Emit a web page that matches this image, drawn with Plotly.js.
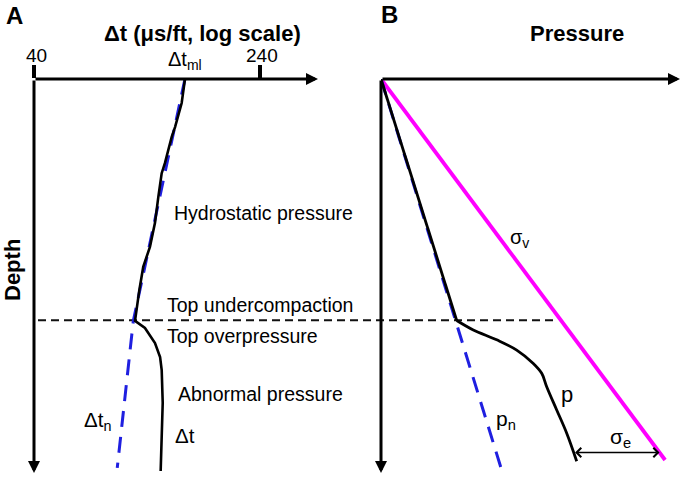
<!DOCTYPE html>
<html>
<head>
<meta charset="utf-8">
<script src="https://cdn.plot.ly/plotly-3.0.1.min.js"></script>
<style>html,body{margin:0;padding:0;background:#fff;}#chart{width:685px;height:479px;}</style>
</head>
<body>
<div id="chart"></div>
<script>
// ---- Panel A: sonic transit time (log scale) vs depth (relative depth 0..1) ----
const dtTickVals = [40, 240];
const dtTickText = ['40', '240'];
const dtDepth = [0, 0.061, 0.122, 0.147, 0.213, 0.239, 0.299, 0.365, 0.426, 0.477, 0.536, 0.586, 0.614, 0.632, 0.670, 0.706, 0.739, 0.822, 0.934, 0.995];
const dtValues = [132.4, 129.0, 122.4, 119.2, 113.0, 110.1, 107.2, 104.4, 100.3, 95.1, 92.2, 90.3, 89.1, 96.4, 104.4, 108.7, 110.1, 111.0, 110.1, 109.2];
const dtNormalDepth = [0, 0.614, 0.987];
const dtNormalValues = [132.4, 87.9, 77.4];

// ---- Panel B: pressure vs depth (relative units) ----
const sigmaVDepth = [0, 0.967];
const sigmaVValues = [0, 0.965];
const pNormalDepth = [0, 0.987];
const pNormalValues = [0, 0.4076];
const pShallowDepth = [0, 0.613];
const pShallowValues = [0, 0.2571];
const pDeepDepth = [0.613, 0.637, 0.662, 0.688, 0.722, 0.747, 0.781, 0.840, 0.899, 0.970];
const pDeepValues = [0.2571, 0.3135, 0.3930, 0.4609, 0.5173, 0.5459, 0.5628, 0.5968, 0.6308, 0.6647];

const topUndercompactionDepth = 0.612;
const sigmaEDepth = 0.948;

const FONT = 'Liberation Sans, Arial, Helvetica, sans-serif';
const W = 685, H = 479;
const L10 = Math.log10;

function interp(xs, ys, v) {
  for (let i = 1; i < ys.length; i++) {
    if (v <= ys[i]) {
      const t = (v - ys[i-1]) / (ys[i] - ys[i-1]);
      return xs[i-1] + t * (xs[i] - xs[i-1]);
    }
  }
  return xs[xs.length - 1];
}

const traces = [
  {x: dtNormalValues, y: dtNormalDepth, xaxis: 'x', yaxis: 'y', mode: 'lines',
   line: {color: '#1f1fe0', width: 3, dash: '16px,10px'}, hoverinfo: 'skip'},
  {x: dtValues, y: dtDepth, xaxis: 'x', yaxis: 'y', mode: 'lines',
   line: {color: '#000', width: 2.6}, hoverinfo: 'skip'},
  {x: sigmaVValues, y: sigmaVDepth, xaxis: 'x2', yaxis: 'y2', mode: 'lines',
   line: {color: '#ff00ff', width: 3.8}, hoverinfo: 'skip'},
  {x: pNormalValues, y: pNormalDepth, xaxis: 'x2', yaxis: 'y2', mode: 'lines',
   line: {color: '#1f1fe0', width: 3, dash: '16px,10px'}, hoverinfo: 'skip'},
  {x: pShallowValues, y: pShallowDepth, xaxis: 'x2', yaxis: 'y2', mode: 'lines',
   line: {color: '#000', width: 2.8}, hoverinfo: 'skip'},
  {x: pDeepValues, y: pDeepDepth, xaxis: 'x2', yaxis: 'y2', mode: 'lines',
   line: {color: '#000', width: 2.8, shape: 'spline', smoothing: 1}, hoverinfo: 'skip'}
];

// pixel layout helpers
const aLeft = 34, aRight = 322, pxPerDecade = 290.4;
const bLeft = 381, bRight = 684, pxPerUnit = 294.4;
const pTop = 79, pBottom = 476, pxPerDepth = 394;
const xA0 = L10(40), xA1 = xA0 + (aRight - aLeft) / pxPerDecade;
const xB1 = (bRight - bLeft) / pxPerUnit;
const yEnd = (pBottom - pTop) / pxPerDepth;
const aArrowTip = xA0 + (318 - aLeft) / pxPerDecade;
const bArrowTip = (680 - bLeft) / pxPerUnit;
const depthTip = (473 - pTop) / pxPerDepth;
const ax = px => xA0 + (px - aLeft) / pxPerDecade;   // panel A pixel -> log10 value
const bx = px => (px - bLeft) / pxPerUnit;            // panel B pixel -> pressure

const domY = [1 - pBottom / H, 1 - pTop / H];

const txt = (size, bold) => ({size: size, family: FONT, color: '#000', weight: bold ? 'bold' : 'normal'});

const arrowCommon = {showarrow: true, text: '', arrowhead: 2, arrowsize: 0.8, arrowwidth: 3, arrowcolor: '#000', standoff: 0, startstandoff: 0};

const annotations = [
  // axis arrows panel A
  Object.assign({xref: 'x', yref: 'y', axref: 'x', ayref: 'y', x: aArrowTip, y: 0, ax: xA0, ay: 0}, arrowCommon),
  Object.assign({xref: 'x', yref: 'y', axref: 'x', ayref: 'y', x: xA0, y: depthTip, ax: xA0, ay: 0}, arrowCommon),
  // axis arrows panel B
  Object.assign({xref: 'x2', yref: 'y2', axref: 'x2', ayref: 'y2', x: bArrowTip, y: 0, ax: 0, ay: 0}, arrowCommon),
  Object.assign({xref: 'x2', yref: 'y2', axref: 'x2', ayref: 'y2', x: 0, y: depthTip, ax: 0, ay: 0}, arrowCommon),
  // sigma_e double arrow
  {xref: 'x2', yref: 'y2', axref: 'x2', ayref: 'y2',
   x: interp(sigmaVValues, sigmaVDepth, sigmaEDepth), y: sigmaEDepth,
   ax: interp(pDeepValues, pDeepDepth, sigmaEDepth), ay: sigmaEDepth,
   showarrow: true, text: '', arrowhead: 4, startarrowhead: 4, arrowside: 'end+start',
   arrowsize: 1.3, startarrowsize: 1.3, arrowwidth: 1.4, arrowcolor: '#000', standoff: 0, startstandoff: 0},
  // panel letters and titles
  {xref: 'paper', yref: 'paper', x: 14 / W, y: 1 - 16 / H, text: '<b>A</b>', showarrow: false, font: txt(24, true), xanchor: 'center', yanchor: 'middle'},
  {xref: 'paper', yref: 'paper', x: 389 / W, y: 1 - 15 / H, text: '<b>B</b>', showarrow: false, font: txt(24, true), xanchor: 'center', yanchor: 'middle'},
  {xref: 'paper', yref: 'paper', x: 202 / W, y: 1 - 34 / H, text: '<b>Δt (μs/ft, log scale)</b>', showarrow: false, font: txt(22, true), xanchor: 'center', yanchor: 'middle'},
  {xref: 'paper', yref: 'paper', x: 577 / W, y: 1 - 34 / H, text: '<b>Pressure</b>', showarrow: false, font: txt(22, true), xanchor: 'center', yanchor: 'middle'},
  {xref: 'paper', yref: 'paper', x: 12 / W, y: 1 - 270 / H, text: '<b>Depth</b>', textangle: -90, showarrow: false, font: txt(22, true), xanchor: 'center', yanchor: 'middle'},
  // tick labels
  {xref: 'x', yref: 'y', x: L10(dtTickVals[0]), y: 0, xshift: 2, yshift: 11, text: dtTickText[0], showarrow: false, font: txt(19), xanchor: 'center', yanchor: 'bottom'},
  {xref: 'x', yref: 'y', x: L10(dtTickVals[1]), y: 0, xshift: 2, yshift: 11, text: dtTickText[1], showarrow: false, font: txt(19), xanchor: 'center', yanchor: 'bottom'},
  // panel A texts
  {xref: 'x', yref: 'y', x: L10(dtValues[0]), y: 0, yshift: 4, text: 'Δt<sub>ml</sub>', showarrow: false, font: txt(20), xanchor: 'center', yanchor: 'bottom'},
  {xref: 'x', yref: 'y', x: ax(172), y: 0.340, text: 'Hydrostatic pressure', showarrow: false, font: txt(19.5), xanchor: 'left', yanchor: 'middle'},
  {xref: 'x', yref: 'y', x: ax(165), y: 0.574, text: 'Top undercompaction', showarrow: false, font: txt(19.5), xanchor: 'left', yanchor: 'middle'},
  {xref: 'x', yref: 'y', x: ax(165), y: 0.653, text: 'Top overpressure', showarrow: false, font: txt(19.5), xanchor: 'left', yanchor: 'middle'},
  {xref: 'x', yref: 'y', x: ax(176), y: 0.799, text: 'Abnormal pressure', showarrow: false, font: txt(19.5), xanchor: 'left', yanchor: 'middle'},
  {xref: 'x', yref: 'y', x: ax(97), y: 0.868, text: 'Δt<sub>n</sub>', showarrow: false, font: txt(20.5), xanchor: 'center', yanchor: 'middle'},
  {xref: 'x', yref: 'y', x: ax(185), y: 0.904, text: 'Δt', showarrow: false, font: txt(20.5), xanchor: 'center', yanchor: 'middle'},
  // panel B texts
  {xref: 'x2', yref: 'y2', x: bx(519), y: 0.404, text: 'σ<sub>v</sub>', showarrow: false, font: txt(20), xanchor: 'center', yanchor: 'middle'},
  {xref: 'x2', yref: 'y2', x: bx(567), y: 0.800, text: 'p', showarrow: false, font: txt(22), xanchor: 'center', yanchor: 'middle'},
  {xref: 'x2', yref: 'y2', x: bx(506), y: 0.865, text: 'p<sub>n</sub>', showarrow: false, font: txt(21), xanchor: 'center', yanchor: 'middle'},
  {xref: 'x2', yref: 'y2', x: bx(620), y: 0.911, text: 'σ<sub>e</sub>', showarrow: false, font: txt(21), xanchor: 'center', yanchor: 'middle'}
];

const layout = {
  width: W, height: H,
  margin: {l: 0, r: 0, t: 0, b: 0, pad: 0},
  paper_bgcolor: '#fff', plot_bgcolor: '#fff',
  showlegend: false,
  font: {family: FONT, color: '#000'},
  xaxis: {
    type: 'log', domain: [aLeft / W, aRight / W], range: [xA0, xA1], anchor: 'y', side: 'top',
    tickmode: 'array', tickvals: dtTickVals, ticktext: dtTickText, showticklabels: false,
    ticks: 'outside', ticklen: 13, tickwidth: 3.5, tickcolor: '#000',
    showline: false, showgrid: false, zeroline: false, fixedrange: true, automargin: false
  },
  yaxis: {
    domain: domY, range: [yEnd, 0], anchor: 'x',
    showticklabels: false, ticks: '', showline: false, showgrid: false, zeroline: false, fixedrange: true, automargin: false
  },
  xaxis2: {
    domain: [bLeft / W, bRight / W], range: [0, xB1], anchor: 'y2', side: 'top',
    showticklabels: false, ticks: '', showline: false, showgrid: false, zeroline: false, fixedrange: true, automargin: false
  },
  yaxis2: {
    domain: domY, range: [yEnd, 0], anchor: 'x2',
    showticklabels: false, ticks: '', showline: false, showgrid: false, zeroline: false, fixedrange: true, automargin: false
  },
  shapes: [
    {type: 'line', layer: 'below', xref: 'paper', yref: 'y', x0: 38 / W, x1: 556 / W,
     y0: topUndercompactionDepth, y1: topUndercompactionDepth,
     line: {color: '#111', width: 2, dash: '8px,5px'}}
  ],
  annotations: annotations
};

Plotly.newPlot('chart', traces, layout, {staticPlot: true, displayModeBar: false});
</script>
</body>
</html>
